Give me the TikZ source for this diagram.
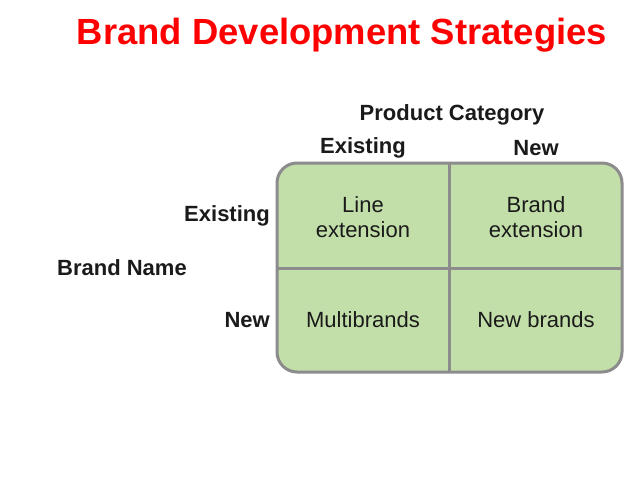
\documentclass[tikz,border=0pt]{standalone}
\usepackage{fontspec}
\setmainfont{Liberation Sans}
\usepackage{graphicx}
\definecolor{cellfill}{HTML}{C3DFA9}
\definecolor{cellline}{HTML}{8C8C8C}
\definecolor{titlered}{HTML}{FF0000}
\definecolor{txt}{HTML}{1A1A1A}
\tikzset{
  head/.style={font=\fontsize{22}{25}\selectfont\bfseries, text=txt, inner sep=0pt},
  cell/.style={font=\fontsize{22}{25}\selectfont, text=txt, align=center, inner sep=0pt},
}
\begin{document}
\begin{tikzpicture}[x=1pt,y=-1pt]
\useasboundingbox (0,0) rectangle (638,479);
\fill[white] (0,0) rectangle (638,479);
\node[text=titlered, inner sep=0pt] (title) at (342,35) {\resizebox{530pt}{!}{\fontsize{30}{34}\selectfont\bfseries Brand Development Strategies}};
\draw[cellline, line width=3pt, fill=cellfill, rounded corners=20pt] (277,163) rectangle (622,372);
\draw[cellline, line width=3pt] (449,163) -- (449,372);
\draw[cellline, line width=3pt] (277,268) -- (622,268);
\node[head] (pc) at (452,115) {Product Category};
\node[head] (ce) at (363,148) {Existing};
\node[head] (cn) at (536,148) {New};
\node[head, anchor=east] (re) at (270,216) {Existing};
\node[head] (bn) at (122,268) {Brand Name};
\node[head, anchor=east] (rn) at (270,320) {New};
\node[cell] (c11) at (363,217) {Line\\extension};
\node[cell] (c12) at (536,217) {Brand\\extension};
\node[cell] (c21) at (363,320) {Multibrands};
\node[cell] (c22) at (536,320) {New brands};
\end{tikzpicture}
\end{document}
